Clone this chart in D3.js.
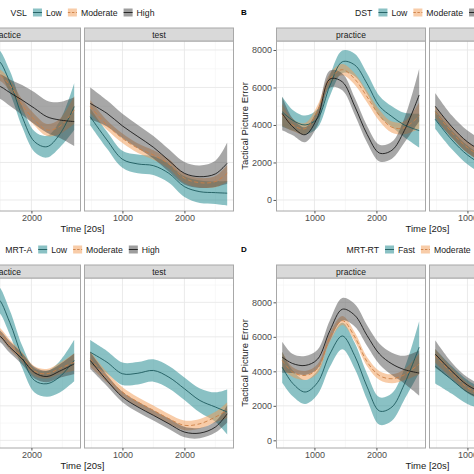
<!DOCTYPE html>
<html>
<head>
<meta charset="utf-8">
<style>
  body { margin: 0; background: #fff; }
  svg { display: block; font-family: "Liberation Sans", Arial, sans-serif; }
  .minor { stroke: #f3f3f3; stroke-width: 0.6; }
  .major { stroke: #e8e8e8; stroke-width: 0.9; }
  .axis path { display: none; }
  .axis line { stroke: #555; }
  .axis text { fill: #4d4d4d; font-size: 9px; font-family: "Liberation Sans", Arial, sans-serif; }
</style>
</head>
<body>
<script src="https://cdn.jsdelivr.net/npm/d3@7"></script>
<script>
// time grids (x values of the smoothed curves)
const practiceTime = [480, 650, 850, 1050, 1250, 1450, 1650, 1850, 2050, 2250, 2450, 2690];
const testTime = [480, 750, 1000, 1250, 1500, 1750, 2000, 2250, 2500, 2690];
const xTicks = [1000, 2000];
const yTicks = [0, 2000, 4000, 6000, 8000];

// A: VSL  (mean, then half width of the band)
const vslPracLow = [4600, 4100, 4000, 4500, 6300, 7450, 6310, 4450, 3110, 2840, 3470, 4980];
const vslPracLowSe = [700, 500, 450, 450, 500, 600, 600, 550, 550, 580, 700, 1250];
const vslPracMod = [4500, 4000, 3900, 4300, 5900, 6700, 6130, 5070, 4270, 3730, 3910, 4800];
const vslPracModSe = [500, 300, 300, 300, 300, 300, 300, 300, 300, 320, 400, 750];
const vslPracHigh = [4800, 4300, 4200, 4700, 5900, 6100, 5730, 5330, 4890, 4440, 4270, 4180];
const vslPracHighSe = [900, 600, 550, 550, 600, 650, 700, 800, 850, 850, 950, 1300];
const vslTestLow = [4440, 3200, 2170, 1920, 1830, 1420, 710, 440, 390, 360];
const vslTestLowSe = [450, 450, 450, 500, 500, 500, 550, 600, 600, 650];
const vslTestMod = [4980, 4000, 3290, 2760, 2400, 1920, 1160, 920, 980, 1420];
const vslTestModSe = [350, 250, 250, 250, 250, 250, 250, 250, 300, 450];
const vslTestHigh = [5150, 4620, 3950, 3380, 2810, 2100, 1420, 1240, 1390, 1960];
const vslTestHighSe = [850, 700, 650, 620, 600, 600, 600, 600, 700, 1100];

// B: DST
const dstPracLow = [4700, 4250, 4000, 4350, 6100, 7370, 7200, 6200, 5000, 4450, 4000, 3700];
const dstPracLowSe = [800, 550, 500, 500, 550, 600, 600, 550, 550, 550, 650, 900];
const dstPracMod = [4550, 4000, 3800, 4750, 6450, 6950, 6450, 5500, 4500, 3880, 3850, 4500];
const dstPracModSe = [600, 320, 300, 300, 300, 300, 300, 300, 300, 300, 350, 700];
const dstPracHigh = [4620, 3900, 3480, 4400, 6450, 6300, 5000, 3500, 2500, 2650, 3700, 5600];
const dstPracHighSe = [900, 450, 400, 420, 450, 450, 450, 450, 450, 450, 650, 1400];
const dstTestLow = [4300, 3200, 2400, 1900, 1700, 1500, 1300, 1200, 1300, 1500];
const dstTestLowSe = [500, 500, 500, 500, 500, 500, 500, 500, 550, 700];
const dstTestMod = [4700, 3600, 2800, 2300, 2000, 1800, 1600, 1500, 1600, 1900];
const dstTestModSe = [300, 300, 300, 300, 300, 300, 300, 300, 300, 400];
const dstTestHigh = [5000, 3900, 3100, 2600, 2300, 2100, 2000, 2000, 2200, 2600];
const dstTestHighSe = [700, 600, 600, 600, 600, 600, 600, 600, 650, 800];

// C: MRT-A
const mraPracLow = [5000, 4500, 4400, 5200, 7200, 8200, 6840, 4850, 3470, 3280, 3660, 4630];
const mraPracLowSe = [800, 700, 650, 650, 700, 750, 700, 650, 700, 750, 900, 1200];
const mraPracMod = [4600, 4100, 4000, 4600, 5800, 6300, 5550, 4820, 4010, 3860, 4150, 4530];
const mraPracModSe = [500, 300, 280, 280, 280, 280, 280, 280, 280, 280, 320, 500];
const mraPracHigh = [4500, 4000, 3900, 4500, 5600, 6100, 5400, 4720, 3920, 3700, 4000, 4430];
const mraPracHighSe = [500, 350, 330, 330, 330, 330, 330, 330, 330, 330, 380, 600];
const mraTestLow = [5110, 4530, 3860, 3890, 4050, 3660, 2990, 2310, 1930, 1640];
const mraTestLowSe = [700, 650, 650, 650, 650, 650, 650, 700, 850, 1300];
const mraTestMod = [4720, 3660, 2800, 2220, 1740, 1250, 870, 960, 1350, 1740];
const mraTestModSe = [450, 300, 280, 280, 280, 280, 280, 280, 300, 450];
const mraTestHigh = [4630, 3470, 2510, 1930, 1450, 960, 480, 420, 770, 1540];
const mraTestHighSe = [500, 320, 300, 300, 300, 300, 300, 300, 320, 500];

// D: MRT-RT
const mrtPracFast = [4240, 3300, 2800, 3350, 5010, 6050, 4900, 3100, 1700, 1930, 3250, 5400];
const mrtPracFastSe = [900, 750, 700, 700, 750, 770, 750, 750, 800, 800, 900, 1500];
const mrtPracMod = [4630, 3950, 3760, 4150, 5980, 6940, 6000, 4550, 3750, 3570, 3800, 4430];
const mrtPracModSe = [500, 280, 260, 260, 260, 260, 260, 260, 260, 260, 320, 600];
const mrtPracSlow = [4820, 4450, 4340, 4700, 6360, 7600, 7250, 6070, 5000, 4430, 4100, 3900];
const mrtPracSlowSe = [900, 550, 550, 550, 600, 650, 650, 600, 600, 650, 800, 1300];
const mrtTestFast = [4300, 3500, 2800, 2400, 2100, 1900, 1800, 1900, 2200, 2600];
const mrtTestFastSe = [1000, 800, 700, 600, 600, 600, 600, 600, 700, 900];
const mrtTestMod = [4900, 3900, 3050, 2600, 2300, 2100, 2000, 2000, 2200, 2600];
const mrtTestModSe = [400, 300, 280, 280, 280, 280, 280, 280, 300, 450];
const mrtTestSlow = [5000, 4000, 3200, 2750, 2450, 2250, 2150, 2150, 2350, 2750];
const mrtTestSlowSe = [800, 500, 450, 450, 450, 450, 450, 450, 500, 700];

const figures = [
  {label: "A", title: "VSL", groups: ["Low", "Moderate", "High"],
   prac: [[vslPracLow, vslPracLowSe], [vslPracMod, vslPracModSe], [vslPracHigh, vslPracHighSe]],
   test: [[vslTestLow, vslTestLowSe], [vslTestMod, vslTestModSe], [vslTestHigh, vslTestHighSe]]},
  {label: "B", title: "DST", groups: ["Low", "Moderate", "High"],
   prac: [[dstPracLow, dstPracLowSe], [dstPracMod, dstPracModSe], [dstPracHigh, dstPracHighSe]],
   test: [[dstTestLow, dstTestLowSe], [dstTestMod, dstTestModSe], [dstTestHigh, dstTestHighSe]]},
  {label: "C", title: "MRT-A", groups: ["Low", "Moderate", "High"],
   prac: [[mraPracLow, mraPracLowSe], [mraPracMod, mraPracModSe], [mraPracHigh, mraPracHighSe]],
   test: [[mraTestLow, mraTestLowSe], [mraTestMod, mraTestModSe], [mraTestHigh, mraTestHighSe]]},
  {label: "D", title: "MRT-RT", groups: ["Fast", "Moderate", "Slow"],
   prac: [[mrtPracFast, mrtPracFastSe], [mrtPracMod, mrtPracModSe], [mrtPracSlow, mrtPracSlowSe]],
   test: [[mrtTestFast, mrtTestFastSe], [mrtTestMod, mrtTestModSe], [mrtTestSlow, mrtTestSlowSe]]}
];

const fillCol = ["#16848a", "#f29a52", "#3c3c3c"];
const lineCol = ["#1d5a5e", "#cc7f45", "#1a1a1a"];
const dash = [null, "4,2.5", null];

const panelW = 150, gap = 3;
const blocks = [
  {fig: 0, left: -69, top: 0, yDom: [-590, 8480]},
  {fig: 1, left: 276, top: 0, yDom: [-590, 8480]},
  {fig: 2, left: -69, top: 237, yDom: [-445, 9410]},
  {fig: 3, left: 276, top: 237, yDom: [-445, 9410]}
];

var svg = d3.select("body").append("svg")
    .attr("width", 474)
    .attr("height", 474);

var clipN = 0;

blocks.forEach(function(b) {
  var fig = figures[b.fig];
  var g = svg.append("g");
  var y = d3.scaleLinear().domain(b.yDom).range([b.top + 211, b.top + 41]);
  var minorY = d3.range(1000, b.yDom[1], 2000);
  var onPage = b.left > 0;   // left column has its y axis cut off by the crop

  ["practice", "test"].forEach(function(facet, fi) {
    var x0 = b.left + fi * (panelW + gap);
    var x = d3.scaleLinear().domain([380, 2800]).range([x0, x0 + panelW]);
    var times = fi == 0 ? practiceTime : testTime;
    var series = fi == 0 ? fig.prac : fig.test;
    var p = g.append("g");

    // grid
    p.selectAll(".mx").data([500, 1500, 2500]).enter().append("line")
      .attr("class", "minor")
      .attr("x1", d => x(d)).attr("x2", d => x(d))
      .attr("y1", b.top + 41).attr("y2", b.top + 211);
    p.selectAll(".my").data(minorY).enter().append("line")
      .attr("class", "minor")
      .attr("x1", x0).attr("x2", x0 + panelW)
      .attr("y1", d => y(d)).attr("y2", d => y(d));
    p.selectAll(".Mx").data(xTicks).enter().append("line")
      .attr("class", "major")
      .attr("x1", d => x(d)).attr("x2", d => x(d))
      .attr("y1", b.top + 41).attr("y2", b.top + 211);
    p.selectAll(".My").data(yTicks).enter().append("line")
      .attr("class", "major")
      .attr("x1", x0).attr("x2", x0 + panelW)
      .attr("y1", d => y(d)).attr("y2", d => y(d));

    var cid = "clip" + (clipN++);
    svg.append("clipPath").attr("id", cid).append("rect")
      .attr("x", x0).attr("y", b.top + 41).attr("width", panelW).attr("height", 170);
    var marks = p.append("g").attr("clip-path", "url(#" + cid + ")");

    series.forEach(function(s, gi) {
      var rows = times.map((t, k) => ({t: t, m: s[0][k], se: s[1][k]}));
      var area = d3.area()
        .x(d => x(d.t))
        .y0(d => y(d.m - d.se))
        .y1(d => y(d.m + d.se))
        .curve(d3.curveCatmullRom);
      marks.append("path")
        .datum(rows)
        .attr("d", area)
        .attr("fill", fillCol[gi])
        .attr("fill-opacity", gi == 2 ? 0.45 : 0.5);
    });
    series.forEach(function(s, gi) {
      var rows = times.map((t, k) => ({t: t, m: s[0][k]}));
      var line = d3.line()
        .x(d => x(d.t))
        .y(d => y(d.m))
        .curve(d3.curveCatmullRom);
      marks.append("path")
        .datum(rows)
        .attr("d", line)
        .attr("fill", "none")
        .attr("stroke", lineCol[gi])
        .attr("stroke-width", 0.9)
        .attr("stroke-dasharray", dash[gi]);
    });

    // border + strip
    p.append("rect")
      .attr("x", x0 + 0.5).attr("y", b.top + 41)
      .attr("width", panelW - 1).attr("height", 170)
      .attr("fill", "none").attr("stroke", "#a8a8a8").attr("stroke-width", 1);
    p.append("rect")
      .attr("x", x0 + 0.5).attr("y", b.top + 28)
      .attr("width", panelW - 1).attr("height", 13)
      .attr("fill", "#d9d9d9").attr("stroke", "#a8a8a8").attr("stroke-width", 1);
    p.append("text")
      .attr("x", x0 + panelW / 2).attr("y", b.top + 37.5)
      .attr("text-anchor", "middle")
      .style("font-size", "8.5px").attr("fill", "#1a1a1a")
      .text(facet);

    var xa = g.append("g")
      .attr("class", "axis")
      .attr("transform", "translate(0," + (b.top + 211) + ")")
      .call(d3.axisBottom(x).tickValues(xTicks).tickFormat(d3.format("d"))
        .tickSize(2.5).tickPadding(1.5));
    // drop tick labels that fall outside the cropped page
    xa.selectAll(".tick").filter(d => x(d) < 8).remove();
    if (fi == 0 && onPage) {
      g.append("g")
        .attr("class", "axis")
        .attr("transform", "translate(" + x0 + ",0)")
        .call(d3.axisLeft(y).tickValues(yTicks).tickFormat(d3.format("d"))
          .tickSize(2.5).tickPadding(1.5));
    }
  });

  // axis titles
  g.append("text")
    .attr("x", b.left + panelW + gap / 2).attr("y", b.top + 232)
    .attr("text-anchor", "middle")
    .style("font-size", "9.5px").attr("fill", "#1a1a1a")
    .text("Time [20s]");
  if (onPage) {
    g.append("text")
      .attr("transform", "translate(" + (b.left - 28) + "," + (b.top + 126) + ") rotate(-90)")
      .attr("text-anchor", "middle")
      .style("font-size", "9.5px").attr("fill", "#1a1a1a")
      .text("Tactical Picture Error");
    g.append("text")
      .attr("x", b.left - 35).attr("y", b.top + 15)
      .style("font-size", "8px").style("font-weight", "bold")
      .text(fig.label);
  }

  // legend, centred over both panels
  var lg = g.append("g");
  var cy = b.top + 12.5;
  var xx = 0;
  var tt = lg.append("text").attr("x", xx).attr("y", cy + 3.2)
    .style("font-size", "8.7px").attr("fill", "#1a1a1a").text(fig.title);
  xx += tt.node().getComputedTextLength() + 6;
  fig.groups.forEach(function(name, gi) {
    lg.append("rect").attr("x", xx).attr("y", cy - 4).attr("width", 9).attr("height", 8)
      .attr("fill", fillCol[gi]).attr("fill-opacity", 0.5);
    lg.append("line").attr("x1", xx).attr("x2", xx + 9).attr("y1", cy).attr("y2", cy)
      .attr("stroke", lineCol[gi]).attr("stroke-width", 0.9)
      .attr("stroke-dasharray", gi == 1 ? "2.5,1.5" : null);
    xx += 13;
    var lt = lg.append("text").attr("x", xx).attr("y", cy + 3.2)
      .style("font-size", "8.7px").attr("fill", "#1a1a1a").text(name);
    xx += lt.node().getComputedTextLength() + 6;
  });
  var cx = b.left + panelW + gap / 2;
  lg.attr("transform", "translate(" + (cx - (xx - 6) / 2) + ",0)");
});
</script>
</body>
</html>
